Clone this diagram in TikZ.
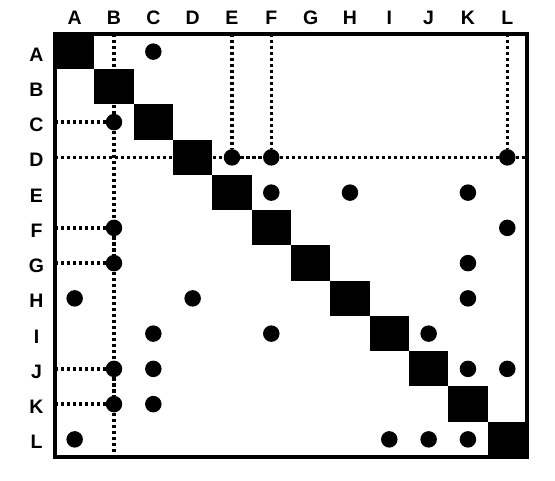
\documentclass[tikz,border=0pt]{standalone}
\usepackage{fontspec}
\setmainfont{Liberation Sans}
\usetikzlibrary{positioning}

\tikzset{
	diagcell/.style={fill=black, inner sep=0pt, minimum width=39.33pt, minimum height=35.25pt},
	depdot/.style={circle, fill=black, inner sep=0pt, minimum size=16.5pt},
	trace/.style={line width=3.4pt, dash pattern=on 3.2pt off 2.8pt},
	axislabel/.style={font=\bfseries\fontsize{19.5}{20}\selectfont, inner sep=0pt, anchor=base},
}

\begin{document}
\begin{tikzpicture}[x=1pt, y=-1pt]

	% ------------------------------------------------
	% Ensure the dimensions of graphic are appropriate
	\useasboundingbox (0,0) rectangle (555,481);

	% ------------------------------------------------
	% Relevant coordinates
	\coordinate (TL) at (55,34);
	\coordinate (BR) at (527,457);
	\def\cw{39.33}
	\def\ch{35.25}

	% ----------------
	% Labels, diagonal blocks and frame points
	\foreach \n [count=\i] in {A,B,C,D,E,F,G,H,I,J,K,L} {
		\coordinate (top\n)   at ({55+\cw*(\i-0.5)},34);
		\coordinate (bot\n)   at ({55+\cw*(\i-0.5)},457);
		\coordinate (left\n)  at (55,{34+\ch*(\i-0.5)});
		\coordinate (right\n) at (527,{34+\ch*(\i-0.5)});
		\node[axislabel] (col\n) at ({55+\cw*(\i-0.5)},25) {\n};
		\node[axislabel] (row\n) at (36.5,{34+\ch*(\i-0.5)+9.5}) {\n};
		\node[diagcell] (\n-\n) at (top\n |- left\n) {};
	}

	% ----------------
	% Dependency dots (row/column)
	\foreach \r/\c in {A/C, C/B, D/E, D/F, D/L, E/F, E/H, E/K, F/B, F/L, G/B, G/K,
		H/A, H/D, H/K, I/C, I/F, I/J, J/B, J/C, J/K, J/L, K/B, K/C, L/A, L/I, L/J, L/K} {
		\node[depdot] (\r-\c) at (top\c |- left\r) {};
	}

	%%%%%%%%%%%%%%%%%%%%%%%%%%%%%%%%%%%%%%%%%
	% Dotted traces
	\draw[trace] (topB) -- (B-B) -- (C-B) -- (F-B) -- (G-B) -- (J-B) -- (K-B) -- (botB);
	\draw[trace] (topE) -- (D-E);
	\draw[trace] (topF) -- (D-F);
	\draw[trace] (topL) -- (D-L);
	\draw[trace] (leftD) -- (D-D) -- (D-E) -- (D-F) -- (D-L) -- (rightD);
	\draw[trace] (leftC) -- (C-B);
	\draw[trace] (leftF) -- (F-B);
	\draw[trace] (leftG) -- (G-B);
	\draw[trace] (leftJ) -- (J-B);
	\draw[trace] (leftK) -- (K-B);

	% Frame
	\draw[line width=3.4pt] (TL) rectangle (BR);

\end{tikzpicture}
\end{document}
